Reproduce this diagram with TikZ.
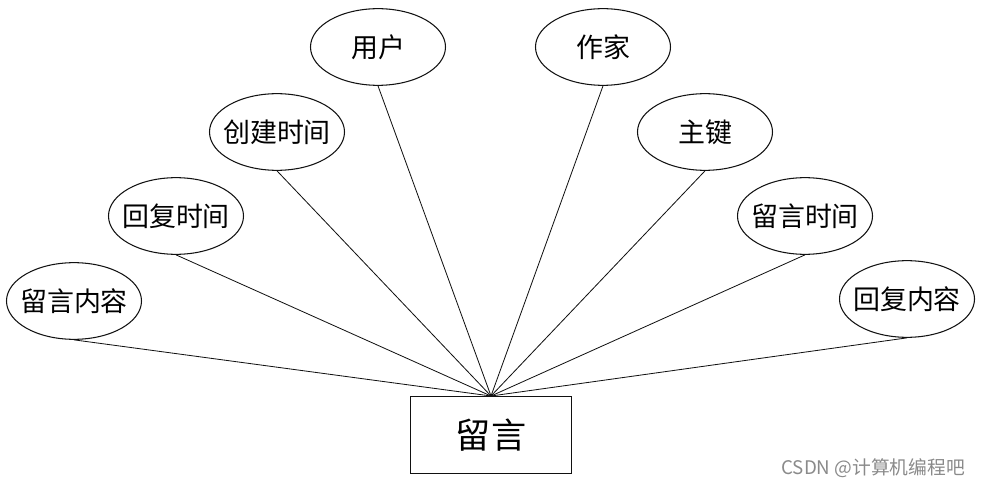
\documentclass[tikz,border=0pt]{standalone}
\usepackage{fontspec}
\usepackage{xcolor}
\usepackage{tikz}
\usetikzlibrary{shapes.geometric}
\newfontfamily\cjk{Noto Sans CJK SC}
\definecolor{eInk}{HTML}{111111}
\definecolor{wmGray}{HTML}{8A8A8A}
\tikzset{
  attr/.style={ellipse, draw=eInk, line width=0.9pt, fill=white,
    minimum width=4.05cm, minimum height=2.3cm, inner xsep=-0.3cm, inner ysep=0pt,
    font=\cjk\fontsize{23pt}{25pt}\selectfont},
  entity/.style={rectangle, draw=eInk, line width=0.9pt, fill=white,
    minimum width=4.85cm, minimum height=2.3cm, inner sep=0pt,
    font=\cjk\fontsize{30pt}{32pt}\selectfont},
  link/.style={draw=eInk, line width=0.7pt},
  watermark/.style={font=\fontsize{16pt}{18pt}\selectfont\cjk, text=wmGray},
}

\begin{document}
\begin{tikzpicture}[x=0.03cm, y=-0.03cm]
  \useasboundingbox (0,0) rectangle (984,487);
  % entity and its attributes
  \node[entity] (msg) at (491,435) {留言};
  \coordinate (hub) at (491,396);
  \node[attr] (content) at (74,301) {留言内容};
  \node[attr] (replytime) at (176,216) {回复时间};
  \node[attr] (created) at (277,132) {创建时间};
  \node[attr] (user) at (378,47) {用户};
  \node[attr] (author) at (603,47) {作家};
  \node[attr] (pkey) at (705,132) {主键};
  \node[attr] (msgtime) at (805,216) {留言时间};
  \node[attr] (reply) at (907,299) {回复内容};
  \foreach \a in {content,replytime,created,user,author,pkey,msgtime,reply}
    \draw[link] (\a.south) -- (hub);
  \node[watermark, anchor=east] (wm) at (969,468) {CSDN @计算机编程吧};
\end{tikzpicture}
\end{document}
